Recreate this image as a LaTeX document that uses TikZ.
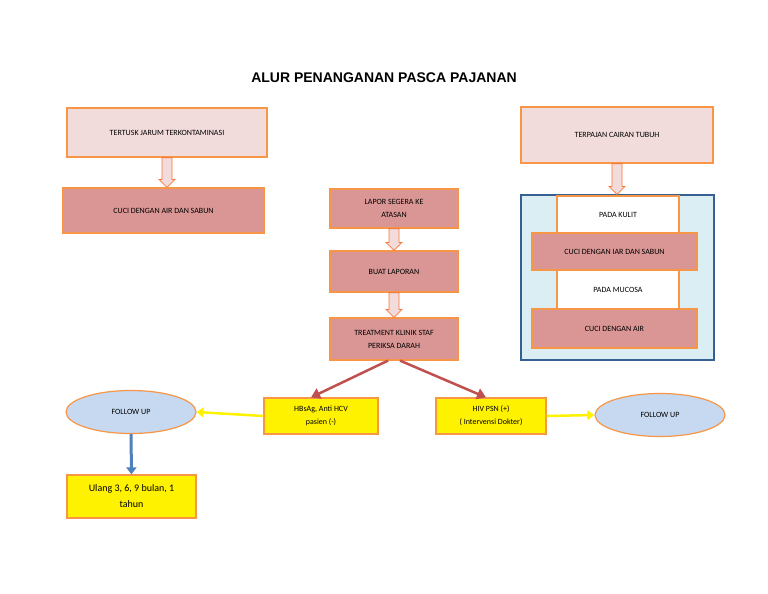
\documentclass[tikz,border=0pt]{standalone}
\usepackage{fontspec}
\setmainfont{Carlito}
\newfontfamily\titlefont{Liberation Sans}
\usetikzlibrary{calc,arrows.meta}
\definecolor{lpink}{HTML}{F2DCDB}
\definecolor{dpink}{HTML}{D99694}
\definecolor{orng}{HTML}{F79646}
\definecolor{lblue}{HTML}{DAEEF3}
\definecolor{dblue}{HTML}{366092}
\definecolor{ellb}{HTML}{C6D9F1}
\definecolor{redar}{HTML}{C0504D}
\definecolor{bluar}{HTML}{4F81BD}
\tikzset{
 bx/.style={draw=orng,line width=1.2pt,minimum width=#1,inner sep=0pt,align=center,font=\fontsize{8}{13}\selectfont},
 bx/.default=128pt,
 lbox/.style={bx=#1,fill=lpink},
 dbox/.style={bx=#1,fill=dpink},
 wbox/.style={bx=#1,fill=white},
 ybox/.style={bx=#1,fill=yellow},
 ell/.style={draw=orng,line width=1.2pt,fill=ellb,ellipse,minimum width=130pt,minimum height=43pt,font=\fontsize{8}{10}\selectfont},
 redarr/.style={draw=redar,line width=2.5pt,-{Triangle[length=9pt,width=11pt]}},
 yelarr/.style={draw=yellow,line width=2.5pt,-{Triangle[length=7pt,width=10pt]}},
 bluarr/.style={draw=bluar,line width=3pt,-{Triangle[length=7pt,width=10pt]}},
}
\usetikzlibrary{shapes.geometric}
\newcommand\blockarr[2]{%
 \path let \p1=(#1.south), \p2=(#2.north) in
  [draw=orng!80!red,fill=lpink,line width=0.8pt]
  (\x1-5pt,\y1) -- (\x1+5pt,\y1) -- (\x1+5pt,\y2+8pt) -- (\x1+8pt,\y2+8pt) -- (\x1,\y2)
  -- (\x1-8pt,\y2+8pt) -- (\x1-5pt,\y2+8pt) -- cycle;}
\begin{document}
\begin{tikzpicture}[x=1pt,y=-1pt]
\useasboundingbox[fill=white] (0,0) rectangle (768,594);
\node (title) at (384,78) {\titlefont\bfseries\fontsize{14}{16}\selectfont ALUR PENANGANAN PASCA PAJANAN};
\node[lbox=200pt,minimum height=49pt] (tj) at (167,132.5) {TERTUSK JARUM TERKONTAMINASI};
\node[dbox=201pt,minimum height=45pt] (c1) at (163.5,210.5) {CUCI DENGAN AIR DAN SABUN};
\node[lbox=192pt,minimum height=56pt] (tc) at (617,135) {TERPAJAN CAIRAN TUBUH};
\node[draw=dblue,line width=1.2pt,fill=lblue,minimum width=193pt,minimum height=165pt,inner sep=0pt] (bb) at (617.5,277.5) {};
\node[wbox=122pt,minimum height=37pt] (pk) at (618,214.5) {PADA KULIT};
\node[wbox=122pt,minimum height=39pt] (pm) at (618,289.5) {PADA MUCOSA};
\node[dbox=165pt,minimum height=37pt] (c2) at (614.5,251.5) {CUCI DENGAN IAR DAN SABUN};
\node[dbox=165pt,minimum height=39pt] (c3) at (614.5,328.5) {CUCI DENGAN AIR};
\node[dbox=128pt,minimum height=39pt] (lp) at (394,208.5) {LAPOR SEGERA KE\\ATASAN};
\node[dbox=128pt,minimum height=41pt] (bl) at (394,271.5) {BUAT LAPORAN};
\node[dbox=128pt,minimum height=42pt] (tr) at (394,339) {TREATMENT KLINIK STAF\\PERIKSA DARAH};
\node[ybox=114pt,minimum height=36pt] (hb) at (321,416) {HBsAg, Anti HCV\\pasien (-)};
\node[ybox=110pt,minimum height=36pt] (hiv) at (491,416) {HIV PSN (+)\\( Intervensi Dokter)};
\node[ell] (f1) at (131,412) {FOLLOW UP};
\node[ell] (f2) at (660,415) {FOLLOW UP};
\node[ybox=129pt,minimum height=43pt,font=\fontsize{10}{16}\selectfont] (ul) at (131.5,496.5) {Ulang 3, 6, 9 bulan, 1\\tahun};
\blockarr{tj}{c1}
\blockarr{tc}{bb}
\blockarr{lp}{bl}
\blockarr{bl}{tr}
\draw[redarr] ([xshift=-6pt]tr.south) -- ([xshift=-10pt]hb.north);
\draw[redarr] ([xshift=6pt]tr.south) -- ([xshift=-5pt]hiv.north);
\draw[yelarr] (hb.west) -- (f1.east);
\draw[yelarr] (hiv.east) -- (f2.west);
\draw[bluarr] (f1.south) -- (ul.north);
\end{tikzpicture}
\end{document}
